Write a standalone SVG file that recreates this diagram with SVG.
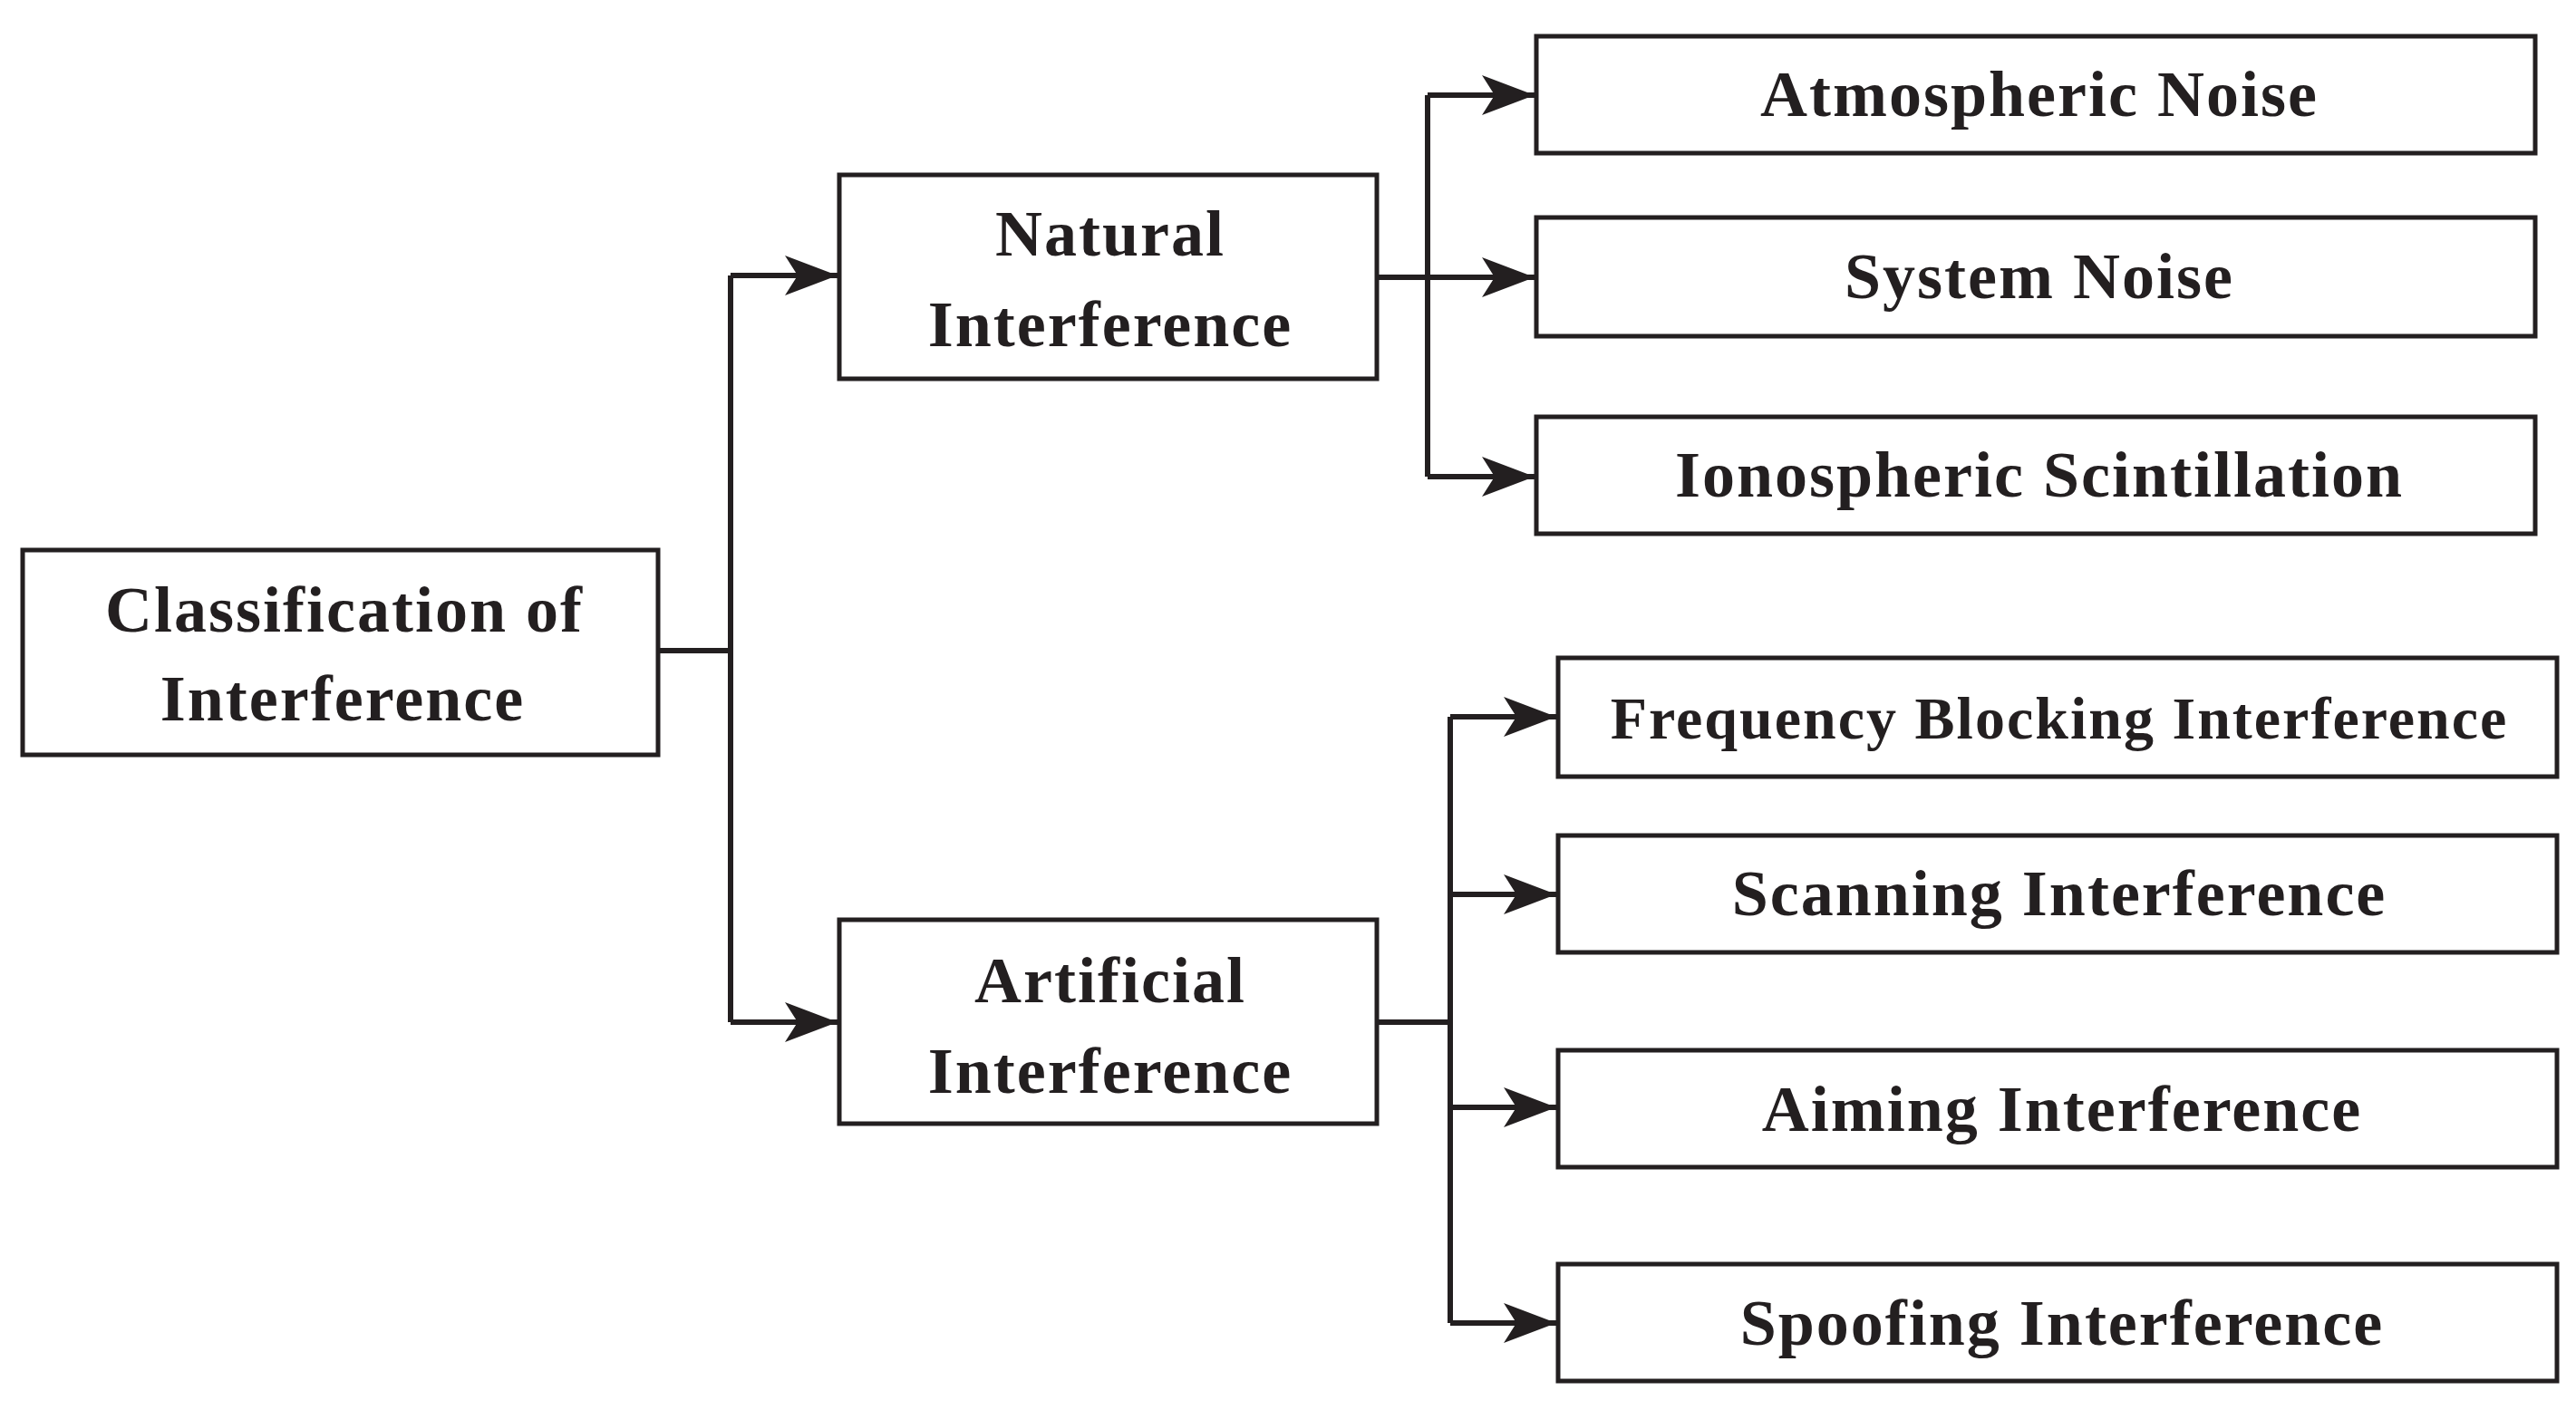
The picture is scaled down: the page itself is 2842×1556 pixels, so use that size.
<svg xmlns="http://www.w3.org/2000/svg" width="2842" height="1556" viewBox="0 0 2842 1556">
<style>
.b{fill:#fff;stroke:#231f20;stroke-width:5}
.t{font-family:"Liberation Serif",serif;font-weight:bold;font-size:72px;fill:#231f20;text-anchor:middle;letter-spacing:2px}
.c{fill:none;stroke:#231f20;stroke-width:6}
</style>
<defs><marker id="a" markerUnits="userSpaceOnUse" markerWidth="60" markerHeight="50" refX="58" refY="22" orient="auto"><path d="M0,0 L58,22 L0,44 L14,22 Z" fill="#231f20"/></marker></defs>
<rect width="2842" height="1556" fill="#fff"/>
<g id="connectors">
<path class="c" d="M726,718 H806 M806,304 V1128"/>
<path class="c" d="M806,304 H924" marker-end="url(#a)"/>
<path class="c" d="M806,1128 H924" marker-end="url(#a)"/>
<path class="c" d="M1519,306 H1575 M1575,105 V526"/>
<path class="c" d="M1575,105 H1693" marker-end="url(#a)"/>
<path class="c" d="M1575,306 H1693" marker-end="url(#a)"/>
<path class="c" d="M1575,526 H1693" marker-end="url(#a)"/>
<path class="c" d="M1519,1128 H1600 M1600,791 V1460"/>
<path class="c" d="M1600,791 H1717" marker-end="url(#a)"/>
<path class="c" d="M1600,987 H1717" marker-end="url(#a)"/>
<path class="c" d="M1600,1222 H1717" marker-end="url(#a)"/>
<path class="c" d="M1600,1460 H1717" marker-end="url(#a)"/>
</g>
<g id="root"><rect class="b" x="25" y="607" width="701" height="226"/><text class="t" x="380" y="697">Classification of</text><text class="t" x="378" y="795">Interference</text></g>
<g id="natural"><rect class="b" x="926" y="193" width="593" height="225"/><text class="t" x="1225" y="282">Natural</text><text class="t" x="1225" y="382">Interference</text></g>
<g id="artificial"><rect class="b" x="926" y="1015" width="593" height="225"/><text class="t" x="1225" y="1106">Artificial</text><text class="t" x="1225" y="1206">Interference</text></g>
<g id="atm"><rect class="b" x="1695" y="40" width="1102" height="129"/><text class="t" x="2250" y="128">Atmospheric Noise</text></g>
<g id="sys"><rect class="b" x="1695" y="240" width="1102" height="131"/><text class="t" x="2250" y="329">System Noise</text></g>
<g id="iono"><rect class="b" x="1695" y="460" width="1102" height="129"/><text class="t" x="2250" y="548">Ionospheric Scintillation</text></g>
<g id="freq"><rect class="b" x="1719" y="726" width="1102" height="131"/><text class="t" x="2272" y="815" style="font-size:66px">Frequency Blocking Interference</text></g>
<g id="scan"><rect class="b" x="1719" y="922" width="1102" height="129"/><text class="t" x="2272" y="1010">Scanning Interference</text></g>
<g id="aim"><rect class="b" x="1719" y="1159" width="1102" height="129"/><text class="t" x="2275" y="1248">Aiming Interference</text></g>
<g id="spoof"><rect class="b" x="1719" y="1395" width="1102" height="129"/><text class="t" x="2275" y="1484">Spoofing Interference</text></g>
</svg>
